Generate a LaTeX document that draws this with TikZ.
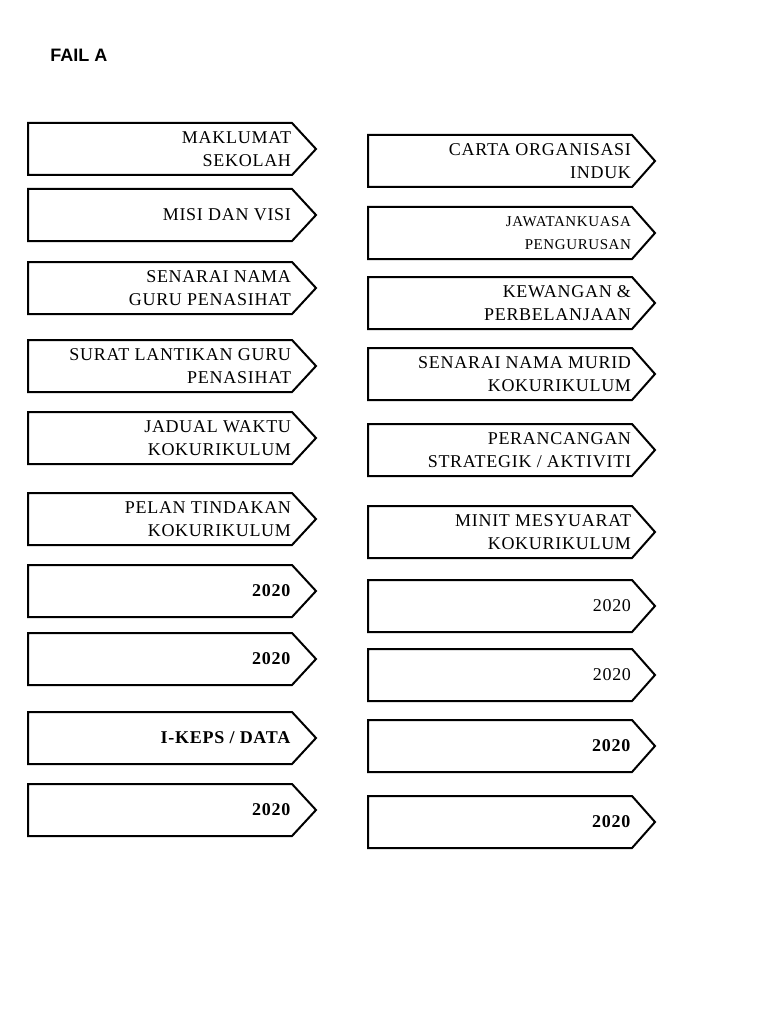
\documentclass[tikz,border=0pt]{standalone}
\usepackage{fontspec}
\setmainfont{Liberation Serif}[LetterSpace=4]
\newfontfamily\titlefont{Liberation Sans}
\begin{document}
\begin{tikzpicture}[x=1pt,y=-1pt,line width=2pt]
    \tikzstyle{label}=[anchor=east,align=right,inner sep=0pt,font=\fontsize{18}{23}\selectfont]
    \useasboundingbox (0,0) rectangle (768,1024);
    \node[anchor=west,font=\titlefont\bfseries\fontsize{18}{20}\selectfont] (title) at (46,55) {FAIL A};

    % left column
    \foreach \name/\top/\txt in {L1/123/{MAKLUMAT\\SEKOLAH},L2/189/{MISI DAN VISI},
        L3/262/{SENARAI NAMA\\GURU PENASIHAT},L4/340/{SURAT LANTIKAN GURU\\PENASIHAT},
        L5/412/{JADUAL WAKTU\\KOKURIKULUM},L6/493/{PELAN TINDAKAN\\KOKURIKULUM},
        L7/565/{\textbf{2020}},L8/633/{\textbf{2020}},L9/712/{\textbf{I-KEPS / DATA}},
        L10/784/{\textbf{2020}}}
    {
        \draw (28,\top) -- (292,\top) -- (316,\top+26) -- (292,\top+52) -- (28,\top+52) -- cycle;
        \node[label] (\name) at (292,\top+26) {\txt};
    }

    % right column
    \foreach \name/\top/\txt in {R1/135/{CARTA ORGANISASI\\INDUK},
        R2/207/{\fontsize{15}{21}\selectfont JAWATANKUASA\\\fontsize{15}{21}\selectfont PENGURUSAN},
        R3/277/{KEWANGAN \&\\PERBELANJAAN},R4/348/{SENARAI NAMA MURID\\KOKURIKULUM},
        R5/424/{PERANCANGAN\\STRATEGIK / AKTIVITI},R6/506/{MINIT MESYUARAT\\KOKURIKULUM},
        R7/580/{2020},R8/649/{2020},R9/720/{\textbf{2020}},R10/796/{\textbf{2020}}}
    {
        \draw (368,\top) -- (632,\top) -- (655,\top+26) -- (632,\top+52) -- (368,\top+52) -- cycle;
        \node[label] (\name) at (632,\top+26) {\txt};
    }
\end{tikzpicture}
\end{document}
